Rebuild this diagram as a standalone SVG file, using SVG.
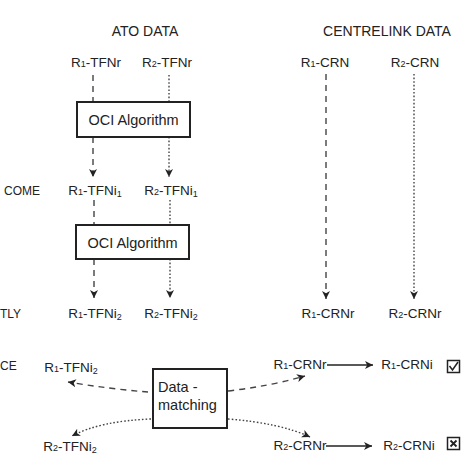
<svg xmlns="http://www.w3.org/2000/svg" width="474" height="474" viewBox="0 0 474 474">
<defs>
<marker id="ah" markerUnits="userSpaceOnUse" markerWidth="9" markerHeight="9" refX="8" refY="4" orient="auto">
<path d="M0,0 L8,4 L0,8 L2.2,4 z" fill="#222"/>
</marker>
<style>
text{font-family:"Liberation Sans",Arial,sans-serif;font-size:13.5px;fill:#222}
.hd{font-size:14px}
.sm{font-size:12px}
.sb{font-size:9px}
.box{fill:#fff;stroke:#222;stroke-width:2}
.dash{fill:none;stroke:#444;stroke-width:1.4;stroke-dasharray:6,5}
.dot{fill:none;stroke:#444;stroke-width:1.4;stroke-dasharray:1.6,2}
.sol{fill:none;stroke:#222;stroke-width:1.5}
</style>
</defs>
<rect width="474" height="474" fill="#fff"/>

<g id="headers">
<text class="hd" x="145" y="36" text-anchor="middle">ATO DATA</text>
<text class="hd" x="387" y="36" text-anchor="middle">CENTRELINK DATA</text>
<text class="sm" x="4" y="195">COME</text>
<text class="sm" x="0" y="318">TLY</text>
<text class="sm" x="0" y="370">CE</text>
</g>

<g id="connectors">
<path class="dash" d="M93,75 V102"/>
<path class="dot" d="M169,75 V102"/>
<path class="dash" d="M93,137 V177" marker-end="url(#ah)"/>
<path class="dot" d="M169,137 V177" marker-end="url(#ah)"/>
<path class="dash" d="M94,200 V225"/>
<path class="dot" d="M170,200 V225"/>
<path class="dash" d="M94,259 V298" marker-end="url(#ah)"/>
<path class="dot" d="M170,259 V298" marker-end="url(#ah)"/>
<path class="dash" d="M326,74 V299" marker-end="url(#ah)"/>
<path class="dot" d="M414,74 V299" marker-end="url(#ah)"/>
<path class="dash" d="M148,392 Q110,389 68,382" marker-end="url(#ah)"/>
<path class="dot" d="M151,419 Q100,421 72,436" marker-end="url(#ah)"/>
<path class="dash" d="M228,391 Q270,386 305,376" marker-end="url(#ah)"/>
<path class="dot" d="M228,419 Q280,423 310,437" marker-end="url(#ah)"/>
<path class="sol" d="M327,365 H373" marker-end="url(#ah)"/>
<path class="sol" d="M326,446 H372" marker-end="url(#ah)"/>
</g>

<g id="r1-tfnr"><text x="96" y="67" text-anchor="middle">R<tspan class="sb">1</tspan>-TFNr</text></g>
<g id="r2-tfnr"><text x="167" y="67" text-anchor="middle">R<tspan class="sb">2</tspan>-TFNr</text></g>
<g id="r1-crn"><text x="325" y="67" text-anchor="middle">R<tspan class="sb">1</tspan>-CRN</text></g>
<g id="r2-crn"><text x="415" y="67" text-anchor="middle">R<tspan class="sb">2</tspan>-CRN</text></g>

<g id="oci1">
<rect class="box" x="77" y="102" width="113" height="35"/>
<text x="133.5" y="124.5" text-anchor="middle" style="font-size:14.5px">OCI Algorithm</text>
</g>

<g id="r1-tfni1"><text x="95" y="195" text-anchor="middle">R<tspan class="sb">1</tspan>-TFNi<tspan class="sb" dy="2">1</tspan></text></g>
<g id="r2-tfni1"><text x="171" y="195" text-anchor="middle">R<tspan class="sb">2</tspan>-TFNi<tspan class="sb" dy="2">1</tspan></text></g>

<g id="oci2">
<rect class="box" x="76" y="225" width="113" height="34"/>
<text x="132.5" y="247.5" text-anchor="middle" style="font-size:14.5px">OCI Algorithm</text>
</g>

<g id="r1-tfni2"><text x="95" y="318" text-anchor="middle">R<tspan class="sb">1</tspan>-TFNi<tspan class="sb" dy="2">2</tspan></text></g>
<g id="r2-tfni2"><text x="171" y="318" text-anchor="middle">R<tspan class="sb">2</tspan>-TFNi<tspan class="sb" dy="2">2</tspan></text></g>
<g id="r1-crnr"><text x="328" y="318" text-anchor="middle">R<tspan class="sb">1</tspan>-CRNr</text></g>
<g id="r2-crnr"><text x="415" y="318" text-anchor="middle">R<tspan class="sb">2</tspan>-CRNr</text></g>

<g id="b-r1-tfni2"><text x="71" y="372" text-anchor="middle">R<tspan class="sb">1</tspan>-TFNi<tspan class="sb" dy="2">2</tspan></text></g>
<g id="b-r2-tfni2"><text x="70" y="451" text-anchor="middle">R<tspan class="sb">2</tspan>-TFNi<tspan class="sb" dy="2">2</tspan></text></g>

<g id="datamatching">
<rect class="box" x="153" y="369" width="74" height="59"/>
<text x="158" y="392" style="font-size:14.5px">Data -</text>
<text x="158" y="410" style="font-size:14.5px">matching</text>
</g>

<g id="b-r1-crnr"><text x="300" y="369" text-anchor="middle">R<tspan class="sb">1</tspan>-CRNr</text></g>
<g id="b-r1-crni"><text x="407" y="369" text-anchor="middle">R<tspan class="sb">1</tspan>-CRNi</text></g>
<g id="b-r2-crnr"><text x="300" y="450" text-anchor="middle">R<tspan class="sb">2</tspan>-CRNr</text></g>
<g id="b-r2-crni"><text x="409" y="450" text-anchor="middle">R<tspan class="sb">2</tspan>-CRNi</text></g>

<g id="check">
<rect x="447.5" y="360.5" width="12" height="12" fill="#fff" stroke="#222" stroke-width="1.5"/>
<path d="M449.5,366 L452.5,370 L458,362" fill="none" stroke="#222" stroke-width="1.5"/>
</g>
<g id="cross">
<rect x="447.5" y="437.5" width="12" height="12" fill="#fff" stroke="#222" stroke-width="1.5"/>
<path d="M450.5,440.5 L456.5,446.5 M456.5,440.5 L450.5,446.5" fill="none" stroke="#222" stroke-width="1.8"/>
</g>
</svg>
